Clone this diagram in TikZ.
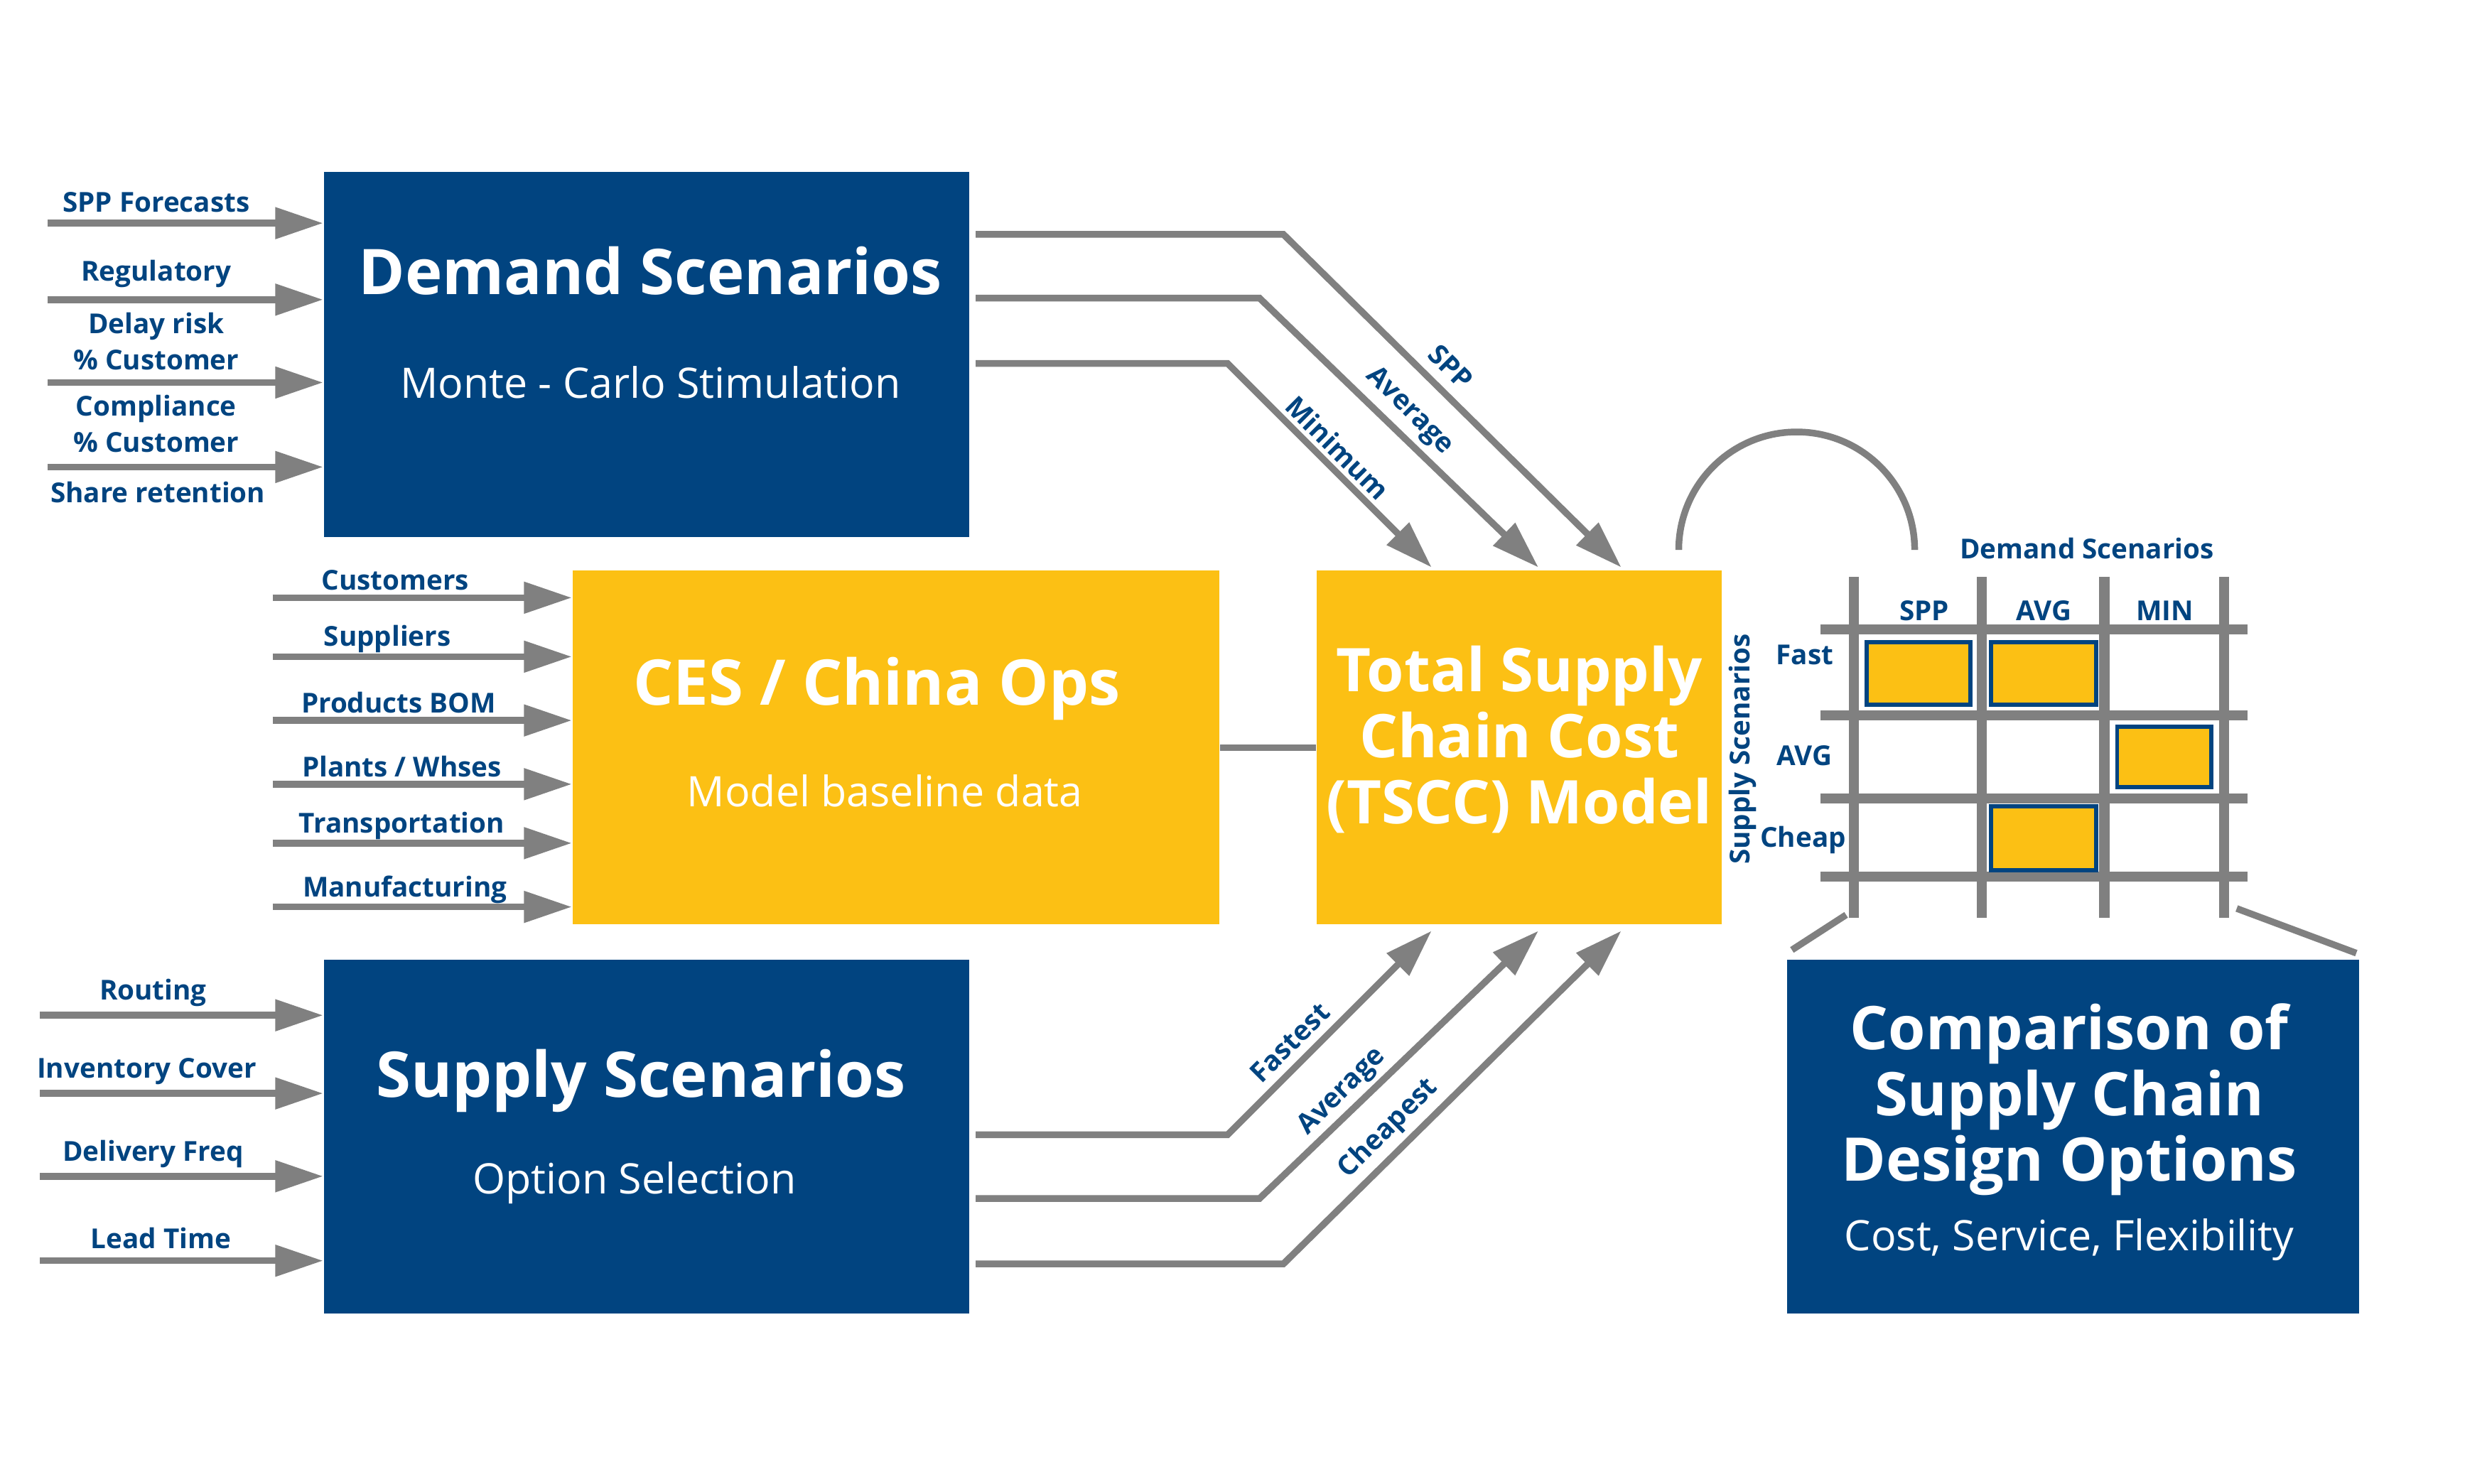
\documentclass[tikz,border=0pt]{standalone}
\usepackage{fontspec}
\setmainfont{Open Sans}
\usetikzlibrary{arrows.meta}
\definecolor{navy}{RGB}{1,68,128}
\definecolor{gold}{RGB}{252,192,20}
\definecolor{pipe}{RGB}{128,128,128}
\tikzset{
  bluebox/.style={fill=navy, draw=none, inner sep=0pt},
  goldbox/.style={fill=gold, draw=none, inner sep=0pt},
  feed/.style={pipe, line width=2.4pt, -{Triangle[length=0.6cm, width=0.38cm]}},
  flow/.style={pipe, line width=2.4pt, -{Triangle[length=0.6cm, width=0.38cm]}},
  tag/.style={text=navy, font=\fontsize{9.8}{11}\selectfont\bfseries, align=center, inner sep=1pt},
  big/.style={text=white, font=\fontsize{22.5}{27}\selectfont\bfseries, align=center},
  sub/.style={text=white, font=\fontsize{15}{18}\selectfont, align=center},
  grid/.style={pipe, line width=3.6pt},
  cell/.style={fill=gold, draw=navy, line width=1.5pt}
}
\begin{document}
\begin{tikzpicture}[x=0.02cm, y=-0.02cm]

    \useasboundingbox (0,0) rectangle (1560,931);

    % boxes
    \node [bluebox, minimum width=8.1cm, minimum height=4.58cm] (demand) at (405.5,222.5) {};
    \node [goldbox, minimum width=8.12cm, minimum height=4.44cm] (ces) at (562,469) {};
    \node [bluebox, minimum width=8.1cm, minimum height=4.44cm] (supply) at (405.5,713) {};
    \node [goldbox, minimum width=5.08cm, minimum height=4.44cm] (tscc) at (953,469) {};
    \node [bluebox, minimum width=7.18cm, minimum height=4.44cm] (compare) at (1300.5,713) {};

    \node [big] (demandT) at (408,170) {Demand Scenarios};
    \node [sub] (demandS) at (408,240) {Monte - Carlo Stimulation};
    \node [big] (cesT) at (550,432) {CES / China Ops};
    \node [sub] (cesS) at (555,496) {Model baseline data};
    \node [big] (supplyT) at (402,678) {Supply Scenarios};
    \node [sub] (supplyS) at (398,742) {Option Selection};
    \node [big, font=\fontsize{21.5}{23.5}\selectfont\bfseries] (tsccT) at (953,464) {Total Supply\\Chain Cost\\(TSCC) Model};
    \node [big, font=\fontsize{21.5}{23.5}\selectfont\bfseries] (compareT) at (1298,690) {Comparison of\\Supply Chain\\Design Options};
    \node [sub] (compareS) at (1298,778) {Cost, Service, Flexibility};

    % inputs to demand
    \foreach \y/\t/\ly in {140/SPP Forecasts/127, 188/Regulatory/172, 240/{Delay risk\\[2pt]\% Customer}/214, 293/{Compliance\\[2pt]\% Customer}/266} {
        \draw [feed] (30,\y) -- (demand.west |- 0,\y);
        \node [tag] at (98,\ly) {\t};
    }
    \node [tag] (share) at (99,309) {Share retention};

    % inputs to ces
    \foreach \y/\t/\lx in {375/Customers/248, 412/Suppliers/243, 452/Products BOM/250, 492/{Plants / Whses}/252, 529/Transportation/252, 569/Manufacturing/254} {
        \draw [feed] (171,\y) -- (ces.west |- 0,\y);
        \node [tag] at (\lx,\y-11) {\t};
    }

    % inputs to supply
    \foreach \y/\t/\lx in {637/Routing/96, 686/Inventory Cover/92, 738/Delivery Freq/96, 791/Lead Time/101} {
        \draw [feed] (25,\y) -- (supply.west |- 0,\y);
        \node [tag] at (\lx,\y-14) {\t};
    }

    % demand scenarios into tscc
    \draw [flow] (612,147) -- (805,147) -- (1017,356);
    \draw [flow] (612,187) -- (790,187) -- (965,356);
    \draw [flow] (612,228) -- (770,228) -- (898,356);
    \node [tag, rotate=-45] at (910,230) {SPP};
    \node [tag, rotate=-45] at (884,258) {Average};
    \node [tag, rotate=-45] at (839,281) {Minimum};

    % supply scenarios into tscc
    \draw [flow] (612,712) -- (770,712) -- (898,584);
    \draw [flow] (612,752) -- (790,752) -- (965,584);
    \draw [flow] (612,793) -- (805,793) -- (1017,584);
    \node [tag, rotate=45] at (809,654) {Fastest};
    \node [tag, rotate=45] at (842,685) {Average};
    \node [tag, rotate=45] at (871,708) {Cheapest};

    \draw [pipe, line width=2.4pt] (ces.east) -- (tscc.west);

    % loop and matrix
    \draw [pipe, line width=2.4pt] (1053,345) arc [start angle=180, end angle=0, x radius=74, y radius=-74];

    \foreach \y in {395,449,501,550}
        \draw [grid] (1142,\y) -- (1410,\y);
    \foreach \x in {1163,1243,1320,1395}
        \draw [grid] (\x,362) -- (\x,576);

    \draw [cell] (1171,403) rectangle (1236,442);
    \draw [cell] (1249,403) rectangle (1315,442);
    \draw [cell] (1328,456) rectangle (1387,494);
    \draw [cell] (1249,506) rectangle (1315,546);

    \node [tag] (dem) at (1309,344) {Demand Scenarios};
    \node [tag] at (1207,383) {SPP};
    \node [tag] at (1282,383) {AVG};
    \node [tag] at (1358,383) {MIN};
    \node [tag] at (1132,411) {Fast};
    \node [tag] at (1132,474) {AVG};
    \node [tag] at (1131,527) {Cheap};
    \node [tag, rotate=90] (sup) at (1093,470) {Supply Scenarios};

    \draw [pipe, line width=2.4pt] (1158,574) -- (1124,596);
    \draw [pipe, line width=2.4pt] (1403,570) -- (1478,598);

\end{tikzpicture}
\end{document}
